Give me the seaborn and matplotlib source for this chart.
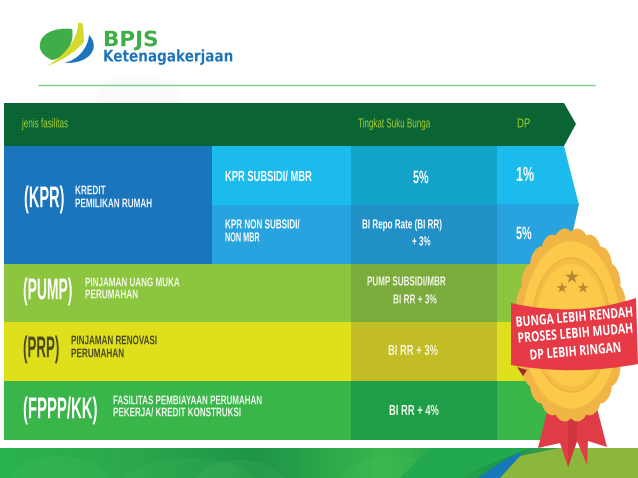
import numpy as np
import seaborn as sns
import matplotlib
matplotlib.use("Agg")
import matplotlib.pyplot as plt
from matplotlib.colors import ListedColormap
from matplotlib.font_manager import FontProperties
from matplotlib.patches import Polygon, Ellipse, PathPatch
from matplotlib.path import Path
from matplotlib.patheffects import AbstractPathEffect
from matplotlib.textpath import TextPath
from matplotlib.transforms import Affine2D

# ---- chart content ----
header_labels = ["jenis fasilitas", "Tingkat Suku Bunga", "DP"]
facility_codes = ["(KPR)", "(PUMP)", "(PRP)", "(FPPP/KK)"]
facility_names = [["KREDIT", "PEMILIKAN RUMAH"],
                  ["PINJAMAN UANG MUKA", "PERUMAHAN"],
                  ["PINJAMAN RENOVASI", "PERUMAHAN"],
                  ["FASILITAS PEMBIAYAAN PERUMAHAN", "PEKERJA/ KREDIT KONSTRUKSI"]]
products = ["KPR SUBSIDI/ MBR", "KPR NON SUBSIDI/", "NON MBR"]
rates = ["5%", "BI Repo Rate (BI RR)", "+ 3%", "PUMP SUBSIDI/MBR", "BI RR + 3%", "BI RR + 3%", "BI RR + 4%"]
dp_values = ["1%", "5%"]
badge_lines = ["BUNGA LEBIH RENDAH", "PROSES LEBIH MUDAH", "DP LEBIH RINGAN"]
logo_lines = ["BPJS", "Ketenagakerjaan"]

# table cell colours, row by column (facility, product, rate, DP)
palette = ["#1b75bc", "#1bbbee", "#12a4c8", "#27a4e0", "#2090c6",
           "#8cc63f", "#7bab3c", "#dfe01b", "#c2bd24", "#39b54a", "#1f9e48"]
cell_index = [[0, 1, 2, 1],
              [0, 3, 4, 3],
              [5, 5, 6, 5],
              [7, 7, 8, 7],
              [9, 9, 10, 9]]
column_px = [208, 139, 146, 67]

W, H = 638, 478
sns.set_theme(style="white")
fig = plt.figure(figsize=(W / 100, H / 100), dpi=100, facecolor="white")


def px_axes(left, top, right, bottom, z):
    a = fig.add_axes([left / W, 1 - bottom / H, (right - left) / W, (bottom - top) / H], zorder=z)
    return a


# ---- table body through seaborn ----
ax_table = px_axes(4, 146, 564, 440, 1)
grid = np.repeat(np.array(cell_index), column_px, axis=1)
sns.heatmap(grid, cmap=ListedColormap(palette), vmin=-0.5, vmax=len(palette) - 0.5,
            cbar=False, xticklabels=False, yticklabels=False, ax=ax_table, rasterized=True)

# ---- backdrop and overlay in pixel coordinates ----
ax_back = px_axes(0, 0, W, H, 0)
ax = px_axes(0, 0, W, H, 2)
for a in (ax_back, ax):
    a.set_xlim(0, W)
    a.set_ylim(H, 0)
    a.axis("off")
ax.patch.set_alpha(0)

# footer band
grad = np.linspace(0, 1, 320)[None, :]
band = np.zeros((1, 320, 3))
stops = np.array([[0.16, 0.70, 0.30], [0.17, 0.66, 0.30], [0.12, 0.58, 0.28],
                  [0.22, 0.72, 0.30], [0.10, 0.58, 0.30], [0.55, 0.70, 0.25]])
for c in range(3):
    band[0, :, c] = np.interp(grad[0], np.linspace(0, 1, len(stops)), stops[:, c])
ax_back.imshow(band, extent=(0, W, 478, 448), aspect="auto", zorder=1, interpolation="bilinear")
ax_back.set_xlim(0, W)
ax_back.set_ylim(H, 0)
for cx, cy, rx, ry, col, al in [(60, 482, 50, 26, "#5fcf6a", .12), (190, 488, 70, 30, "#4cc25a", .15),
                                (240, 485, 45, 25, "#7ad27a", .10), (395, 492, 60, 36, "#55c765", .15)]:
    ax_back.add_patch(Ellipse((cx, cy), 2 * rx, 2 * ry, color=col, alpha=al, lw=0, zorder=2))
ax_back.add_patch(Polygon([(478, 478), (500, 463), (520, 452), (530, 478)], color="#1877b8", lw=0, zorder=3))
ax_back.add_patch(Polygon([(500, 478), (520, 456), (560, 448), (638, 448), (638, 478)], color="#8cb63c", lw=0, zorder=4))
ax_back.add_patch(Polygon([(430, 448), (530, 448), (505, 458), (480, 468), (462, 478), (400, 478)],
                          color="#22a84e", lw=0, zorder=3))

# rule and watermark below the logo
ax_back.add_patch(Ellipse((138, 98), 84, 46, color="#fbfbfb", lw=0, zorder=1))
ax.plot([38, 595], [85, 85], color="#7fcb8c", lw=1.0, solid_capstyle="butt")

# header arrow and right-hand points of the KPR rows
ax.add_patch(Polygon([(4, 103), (564, 103), (576, 124), (564, 146), (4, 146)], color="#0b6434", lw=0))
ax.add_patch(Polygon([(497, 146), (564, 146), (579, 205), (497, 205)], color=palette[1], lw=0))
ax.add_patch(Polygon([(497, 204), (579, 204), (566, 262), (497, 262)], color=palette[3], lw=0))


# ---- text helper: real text sized to the reference width, drawn taller as in the condensed original ----
class Tall(AbstractPathEffect):
    def __init__(self, sy):
        super().__init__()
        self.sy = sy

    def draw_path(self, renderer, gc, tpath, affine, rgbFace=None):
        renderer.draw_path(gc, tpath, Affine2D().scale(1, self.sy) + affine, rgbFace)


def put(s, x0, x1, yc, em, color="white", weight="bold", family="Liberation Sans", rot=0, z=20):
    fp = FontProperties(family=family, weight=weight)
    natural = TextPath((0, 0), s, size=em, prop=fp).get_extents().width
    fit = (x1 - x0) / natural
    drop = 0.34 * em * np.cos(np.radians(rot))
    t = ax.text(x0, yc + drop, s, fontproperties=fp, fontsize=em * fit * 0.72, color=color, ha="left",
                va="baseline", rotation=rot, rotation_mode="anchor", zorder=z)
    t.set_path_effects([Tall(1 / fit)])
    return t


HEAD = "#a6d135"
put(header_labels[0], 22, 68, 123, 13, HEAD, "normal")
put(header_labels[1], 358, 430, 123, 13, HEAD, "normal")
put(header_labels[2], 517, 529, 123, 13, HEAD, "normal")

DARK = "#4b4a1c"
put(facility_codes[0], 24, 63, 197, 30)
put(facility_names[0][0], 75, 105, 190, 12.5, "#f2f6fb")
put(facility_names[0][1], 75, 151, 203, 12.5, "#f2f6fb")
put(facility_codes[1], 23, 71, 289, 30)
put(facility_names[1][0], 85, 179, 282, 12.5, "#f4f8e8")
put(facility_names[1][1], 85, 137, 294, 12.5, "#f4f8e8")
put(facility_codes[2], 23, 58, 347, 30, DARK)
put(facility_names[2][0], 71, 156, 340, 12.5, DARK)
put(facility_names[2][1], 71, 123, 353, 12.5, DARK)
put(facility_codes[3], 23, 96, 408, 30)
put(facility_names[3][0], 113, 261, 400, 12.5, "#f0f8ee")
put(facility_names[3][1], 113, 240, 412, 12.5, "#f0f8ee")

put(products[0], 225, 311, 176, 14.5)
put(products[1], 225, 299, 224, 13)
put(products[2], 225, 259, 237, 13)

put(rates[0], 413, 428, 177, 18)
put(rates[1], 362, 441, 224, 13)
put(rates[2], 412, 430, 241, 13)
put(rates[3], 367, 445, 281, 13, "#f3f6e6")
put(rates[4], 393, 436, 299, 13, "#f3f6e6")
put(rates[5], 388, 437, 350, 14.5, "#f6f5d8")
put(rates[6], 389, 438, 410, 14.5, "#eef8ea")
put(dp_values[0], 516, 533, 174, 20)
put(dp_values[1], 516, 531, 233, 18)

# ---- logo ----
M, C = Path.MOVETO, Path.CURVE4
leaf = Path([(40, 48), (38, 34), (54, 27), (72, 29), (75, 42), (66, 58), (52, 60), (45, 57), (41, 53), (40, 48)],
            [M, C, C, C, C, C, C, C, C, C])
ax.add_patch(PathPatch(leaf, fc="#3fae49", lw=0))
swoosh = Path([(78, 23), (84, 22), (83, 23), (84, 42), (68, 60), (47, 66), (47, 66), (64, 56), (78, 40), (78, 23)],
              [M, C, C, C, C, C, C, C, C, C])
ax.add_patch(PathPatch(swoosh, fc="#d4d92a", lw=0))
crescent = Path([(89, 35), (100, 46), (92, 64), (64, 63), (78, 60), (88, 48), (89, 35)],
                [M, C, C, C, C, C, C])
ax.add_patch(PathPatch(crescent, fc="#1c75bc", lw=0))
put(logo_lines[0], 103, 155, 39, 21, "#3fae49", "bold", "DejaVu Sans")
put(logo_lines[1], 103, 231, 56, 16, "#1c75bc", "bold", "DejaVu Sans")

# ---- badge ----
tails = [(548, 408), (538, 448), (560, 443), (568, 467), (577, 441), (587, 465), (588, 441), (607, 447), (597, 408)]
ax.add_patch(Polygon(tails, color="#e03c46", lw=0, zorder=10))
ax.add_patch(Polygon([(568, 410), (568, 467), (577, 441), (577, 410)], color="#d2343f", lw=0, zorder=10))

theta = np.linspace(0, 2 * np.pi, 1200)
scallop = 1 + 0.045 * np.abs(np.cos(11 * theta)) ** 0.7
bx, by, brx, bry = 571, 325, 54, 93
ax.add_patch(Polygon(np.c_[bx + brx * scallop * np.cos(theta), by + bry * scallop * np.sin(theta)],
                     color="#f0b544", lw=0, zorder=11))
ax.add_patch(Ellipse((bx, by), 2 * 0.90 * brx, 2 * 0.90 * bry, color="#fcc94b", lw=0, zorder=12))
ax.add_patch(Ellipse((bx, by), 2 * 0.72 * brx, 2 * 0.72 * bry, fc="#f5bd45", ec="#eeb040", lw=1, zorder=13))
ax.add_patch(Ellipse((bx, by), 2 * 0.66 * brx, 2 * 0.66 * bry, color="#fcc94b", lw=0, zorder=14))
ax.scatter([572, 562, 583], [277, 288, 288], marker="*", s=[110, 70, 70], color="#b8892e", lw=0, zorder=15)

# red banner
L, Cq = Path.LINETO, Path.CURVE3
ribbon = Path([(511, 303), (575, 318), (636, 298), (638, 364), (575, 376), (511, 365), (511, 303)],
              [M, Cq, Cq, L, Cq, Cq, Path.CLOSEPOLY])
ax.add_patch(PathPatch(ribbon, fc="#e63a46", lw=0, zorder=16))
ax.add_patch(Polygon([(517, 367), (527, 370), (523, 376)], color="#9c2a2e", lw=0, zorder=15))
put(badge_lines[0], 516, 632, 322, 14, "white", "bold", "Open Sans", rot=5)
put(badge_lines[1], 518, 632, 338, 14, "white", "bold", "Open Sans", rot=5)
put(badge_lines[2], 530, 620, 355, 14, "white", "bold", "Open Sans", rot=5)

fig.savefig("out.png", dpi=100, facecolor="white")
